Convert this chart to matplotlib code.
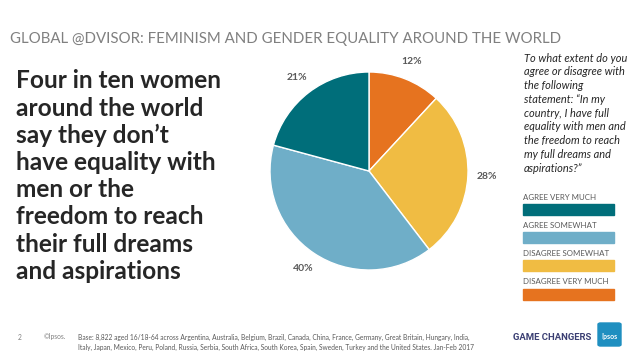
import matplotlib.pyplot as plt
from matplotlib.patches import Rectangle, FancyBboxPatch

# survey answers, clockwise from the top of the pie
answers = ["DISAGREE VERY MUCH", "DISAGREE SOMEWHAT", "AGREE SOMEWHAT", "AGREE VERY MUCH"]
shares = [12, 28, 40, 21]
colors = ["#e6731f", "#f0bc43", "#6faec8", "#006e7a"]

# legend is listed top to bottom in this order
legend_order = ["AGREE VERY MUCH", "AGREE SOMEWHAT", "DISAGREE SOMEWHAT", "DISAGREE VERY MUCH"]

title = "GLOBAL @DVISOR: FEMINISM AND GENDER EQUALITY AROUND THE WORLD"
headline = ["Four in ten women", "around the world", "say they don\u2019t", "have equality with",
            "men or the", "freedom to reach", "their full dreams", "and aspirations"]
question = ["To what extent do you", "agree or disagree with", "the following",
            "statement: \u201cIn my", "country, I have full", "equality with men and",
            "the freedom to reach", "my full dreams and", "aspirations?\u201d"]
base_note = ("Base: 8,822 aged 16/18-64 across Argentina, Australia, Belgium, Brazil, Canada, China, France, Germany, Great Britain, Hungary, India,\n"
             "Italy, Japan, Mexico, Peru, Poland, Russia, Serbia, South Africa, South Korea, Spain, Sweden, Turkey and the United States. Jan-Feb 2017")

W, H = 638, 359
plt.rcParams['font.family'] = ['Lato', 'DejaVu Sans']
fig = plt.figure(figsize=(W / 100, H / 100), dpi=100)

def fx(px):
    return px / W

def fy(py):
    return 1 - py / H

# pie, centre (369,171) radius 99 px
ax = fig.add_axes([fx(270), fy(270), 198 / W, 198 / H])
wedges, texts = ax.pie(shares, colors=colors, startangle=90, counterclock=False,
                       labels=[f"{v}%" for v in shares], labeldistance=1.19,
                       wedgeprops=dict(edgecolor="white", linewidth=1),
                       textprops=dict(fontsize=7.5, fontweight="bold", color="#595959"))
for t in texts:
    t.set_ha("center")
    t.set_va("center")
ax.set_xlim(-1, 1)
ax.set_ylim(-1, 1)
ax.set_aspect("equal")

fig.text(fx(10), fy(39), title, fontsize=10.8, color="#808080", va="center", ha="left")

for i, line in enumerate(headline):
    fig.text(fx(16), fy(81 + i * 27.2), line, fontsize=17.6, fontweight="bold",
             color="#262626", va="center", ha="left")

for i, line in enumerate(question):
    fig.text(fx(524), fy(58 + i * 13.8), line, fontsize=7.9, style="italic",
             color="#262626", va="center", ha="left")

for i, name in enumerate(legend_order):
    y0 = 197 + i * 28.2
    fig.text(fx(523), fy(y0), name, fontsize=5.7, color="#595959", va="center", ha="left")
    c = colors[answers.index(name)]
    fig.patches.append(Rectangle((fx(523), fy(y0 + 18)), 91 / W, 11 / H,
                                 transform=fig.transFigure, color=c))

# footer
fig.text(fx(18), fy(337), "2", fontsize=4.8, color="#808080", va="center")
fig.text(fx(44), fy(337), "\u00a9Ipsos.", fontsize=4.8, color="#808080", va="center")
fig.text(fx(78), fy(342.5), base_note, fontsize=4.75, color="#595959", va="center",
         linespacing=1.45)
fig.text(fx(513), fy(337), "GAME CHANGERS", fontsize=6.8, fontweight="bold",
         color="#3b3f73", va="center", family=["Roboto", "DejaVu Sans"])
fig.patches.append(FancyBboxPatch((fx(598), fy(346)), 23 / W, 23 / H,
                                  boxstyle="round,pad=0,rounding_size=0.004",
                                  transform=fig.transFigure, color="#1f8fc0"))
fig.text(fx(609.5), fy(337), "Ipsos", fontsize=5, fontweight="bold", color="white",
         ha="center", va="center")

fig.savefig("out.png", dpi=100)
